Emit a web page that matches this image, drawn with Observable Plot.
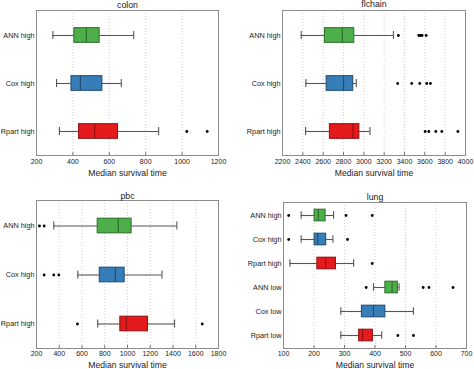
<!DOCTYPE html>
<html><head><meta charset="utf-8">
<script src="https://cdn.jsdelivr.net/npm/d3@7"></script>
<script src="https://cdn.jsdelivr.net/npm/@observablehq/plot@0.6"></script>
<style>
html,body{margin:0;padding:0;background:#fff;}
#wrap{position:relative;width:474px;height:369px;overflow:hidden;}
#wrap svg{position:absolute;left:0;top:0;}
</style></head>
<body><div id="wrap"></div>
<script>
// ---- colon ----
const colonCats = ["ANN high","Cox high","Rpart high"];
const colonLo  = [290, 310, 326];
const colonQ1  = [408, 392, 434];
const colonMed = [474, 441, 520];
const colonQ3  = [547, 562, 648];
const colonHi  = [734, 666, 871];
const colonOutCat = ["Rpart high","Rpart high"];
const colonOutVal = [1026, 1138];
const colonTicks = [200,400,600,800,1000,1200];

// ---- flchain ----
const flchainCats = ["ANN high","Cox high","Rpart high"];
const flchainLo  = [2384, 2430, 2427];
const flchainQ1  = [2617, 2634, 2666];
const flchainMed = [2788, 2801, 2893];
const flchainQ3  = [2906, 2896, 2956];
const flchainHi  = [3291, 2926, 3061];
const flchainOutCat = ["ANN high","ANN high","ANN high","ANN high","ANN high",
  "Cox high","Cox high","Cox high","Cox high","Cox high",
  "Rpart high","Rpart high","Rpart high","Rpart high","Rpart high"];
const flchainOutVal = [3340, 3540, 3557, 3573, 3613,
  3333, 3471, 3550, 3619, 3655,
  3603, 3639, 3708, 3767, 3925];
const flchainTicks = [2200,2400,2600,2800,3000,3200,3400,3600,3800,4000];

// ---- pbc ----
const pbcCats = ["ANN high","Cox high","Rpart high"];
const pbcLo  = [352, 563, 738];
const pbcQ1  = [738, 756, 937];
const pbcMed = [919, 893, 990];
const pbcQ3  = [1036, 975, 1180];
const pbcHi  = [1434, 1303, 1414];
const pbcOutCat = ["ANN high","ANN high","Cox high","Cox high","Cox high","Rpart high","Rpart high"];
const pbcOutVal = [226, 267, 267, 352, 396, 560, 1657];
const pbcTicks = [200,400,600,800,1000,1200,1400,1600,1800];

// ---- lung ----
const lungCats = ["ANN high","Cox high","Rpart high","ANN low","Cox low","Rpart low"];
const lungLo  = [158, 158, 121, 395, 288, 288];
const lungQ1  = [202, 202, 211, 434, 357, 348];
const lungMed = [214, 212, 238, 456, 395, 359];
const lungQ3  = [238, 240, 272, 475, 434, 393];
const lungHi  = [264, 262, 330, 479, 526, 422];
const lungOutCat = ["ANN high","ANN high","ANN high","Cox high","Cox high","Rpart high",
  "ANN low","ANN low","ANN low","ANN low","Rpart low","Rpart low"];
const lungOutVal = [117, 305, 391, 117, 310, 391, 371, 558, 577, 656, 475, 526];
const lungTicks = [100,200,300,400,500,600,700];

const fillOf = {ANN:"#4daf4a", Cox:"#377eb8", Rpart:"#e41a1c"};
const edgeOf = {ANN:"#2a6b28", Cox:"#1e4a70", Rpart:"#8f1012"};
const method = c => c.split(" ")[0];

function panel(o) {
  const rows = o.cats.map((c,i) => ({cat:c, lo:o.lo[i], q1:o.q1[i], med:o.med[i], q3:o.q3[i], hi:o.hi[i], m:method(c)}));
  const outs = o.outCat.map((c,i) => ({cat:c, v:o.outVal[i]}));
  const step = (369 - o.mt - o.mb) / o.cats.length;
  const bi = (step - o.box) / 2;
  const ci = (step - o.cap) / 2;
  const svg = Plot.plot({
    width: 474, height: 369,
    marginLeft: o.ml, marginRight: o.mr, marginTop: o.mt, marginBottom: o.mb,
    style: {fontFamily: "'Liberation Sans', Arial, sans-serif", fontSize: "7px", background: "transparent", color: "#222", overflow: "visible"},
    x: {domain: o.domain},
    y: {domain: o.cats, padding: 0},
    marks: [
      Plot.gridX(o.ticks, {stroke: "#c4c4c4", strokeOpacity: 1, strokeDasharray: "1,2", strokeWidth: 0.8}),
      Plot.axisX({ticks: o.ticks, tickSize: 3, dy: -3, text: null, stroke: "#777"}),
      Plot.axisX({ticks: o.ticks, tickSize: 0, tickPadding: o.tp, tickFormat: d => String(d), label: null, fontSize: 7, fill: "#222"}),
      Plot.axisY({tickSize: 0, tickPadding: 2, label: null, fontSize: 7.3, fill: "#222"}),
      Plot.ruleY(rows, {y: "cat", x1: "lo", x2: "q1", stroke: "#555", strokeWidth: 1.1}),
      Plot.ruleY(rows, {y: "cat", x1: "q3", x2: "hi", stroke: "#555", strokeWidth: 1.1}),
      Plot.tickX(rows, {x: "lo", y: "cat", insetTop: ci, insetBottom: ci, stroke: "#555", strokeWidth: 1.1}),
      Plot.tickX(rows, {x: "hi", y: "cat", insetTop: ci, insetBottom: ci, stroke: "#555", strokeWidth: 1.1}),
      Plot.barX(rows, {x1: "q1", x2: "q3", y: "cat", insetTop: bi, insetBottom: bi, fill: d => fillOf[d.m], stroke: d => edgeOf[d.m], strokeWidth: 1}),
      Plot.tickX(rows, {x: "med", y: "cat", insetTop: bi, insetBottom: bi, stroke: d => edgeOf[d.m], strokeWidth: 1.1}),
      Plot.dot(outs, {x: "v", y: "cat", r: 1.4, fill: "#000", stroke: null}),
      Plot.frame({stroke: "#8c8c8c", strokeWidth: 1}),
      Plot.text([o.title], {frameAnchor: "top", lineAnchor: "middle", dy: -o.td, fontSize: 8.8, fill: "#222"}),
      Plot.text(["Median survival time"], {frameAnchor: "bottom", lineAnchor: "middle", dy: o.ld, fontSize: 8.6, fill: "#222"})
    ]
  });
  document.getElementById("wrap").appendChild(svg);
}

panel({title:"colon", cats:colonCats, lo:colonLo, q1:colonQ1, med:colonMed, q3:colonQ3, hi:colonHi,
  outCat:colonOutCat, outVal:colonOutVal, ticks:colonTicks, domain:[200,1200],
  ml:36, mr:256, mt:10, mb:214, box:15, cap:8.5, tp:4, td:5, ld:18});
panel({title:"flchain", cats:flchainCats, lo:flchainLo, q1:flchainQ1, med:flchainMed, q3:flchainQ3, hi:flchainHi,
  outCat:flchainOutCat, outVal:flchainOutVal, ticks:flchainTicks, domain:[2200,4000],
  ml:282, mr:9, mt:10, mb:214, box:15, cap:8.5, tp:4, td:6, ld:18});
panel({title:"pbc", cats:pbcCats, lo:pbcLo, q1:pbcQ1, med:pbcMed, q3:pbcQ3, hi:pbcHi,
  outCat:pbcOutCat, outVal:pbcOutVal, ticks:pbcTicks, domain:[200,1800],
  ml:36, mr:256, mt:200, mb:21, box:15, cap:8.5, tp:3, td:4, ld:17});
panel({title:"lung", cats:lungCats, lo:lungLo, q1:lungQ1, med:lungMed, q3:lungQ3, hi:lungHi,
  outCat:lungOutCat, outVal:lungOutVal, ticks:lungTicks, domain:[100,700],
  ml:283, mr:8, mt:202, mb:21, box:12, cap:8, tp:3, td:5, ld:17});
</script></body></html>
